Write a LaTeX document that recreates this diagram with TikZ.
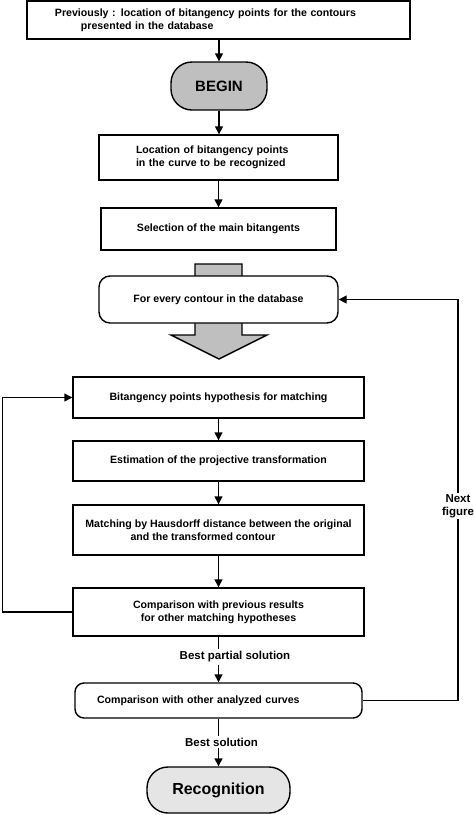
\documentclass[tikz,border=0pt]{standalone}
\usepackage{fontspec}
\setmainfont{Liberation Sans}
\usetikzlibrary{arrows.meta}
\begin{document}
\begin{tikzpicture}[x=1pt,y=-1pt,
  box/.style={draw, line width=1.4pt, fill=white, inner sep=0pt,
    font=\bfseries\fontsize{10.6}{13}\selectfont, align=center},
  rbox/.style={box, rounded corners=11pt},
  term/.style={draw, line width=1.4pt, rounded corners=21pt, inner sep=0pt,
    font=\bfseries\fontsize{16}{18}\selectfont},
  lab/.style={inner sep=2pt, font=\bfseries\fontsize{11.5}{13}\selectfont, align=center},
  conn/.style={line width=1.4pt},
  arr/.style={conn, -{Triangle[length=8pt,width=8pt]}}]
\useasboundingbox (0,0) rectangle (474,815);
\fill[white] (0,0) rectangle (474,815);

\node[box, minimum width=383, minimum height=38, text width=383, align=left] (prev) at (218.5,20)
  {\hspace*{28pt}Previously : location of bitangency points for the contours\\
   \hspace*{54pt}presented in the database};
\node[term, fill=black!25, minimum width=96, minimum height=48, font=\bfseries\fontsize{15}{18}\selectfont] (begin) at (219,86) {BEGIN};
\node[box, minimum width=239, minimum height=45, text width=239, align=left] (loc) at (218.5,157.5)
  {\hspace*{37pt}Location of bitangency points\\
   \hspace*{37pt}in the curve to be recognized};
\node[box, minimum width=235, minimum height=42] (sel) at (218.5,229) {Selection of the main bitangents};

\draw[conn, fill=black!25] (195,264) -- (242,264) -- (242,335) -- (267,335) -- (219,359)
  -- (171,335) -- (195,335) -- cycle;
\node[rbox, minimum width=239, minimum height=47] (forall) at (218.5,299.5) {For every contour in the database};

\node[box, minimum width=291, minimum height=41] (bit) at (218.5,397.5) {Bitangency points hypothesis for matching};
\node[box, minimum width=291, minimum height=40] (est) at (218.5,461) {Estimation of the projective transformation};
\node[box, minimum width=291, minimum height=50] (match) at (218.5,530)
  {Matching by Hausdorff distance between the original\\
   and the transformed contour\hspace*{31pt}\null};
\node[box, minimum width=291, minimum height=48] (cmp) at (218.5,612)
  {Comparison with previous results\\for other matching hypotheses};
\node[lab] (bps) at (235,657) {Best partial solution};
\node[rbox, rounded corners=9pt, minimum width=287, minimum height=35, text width=287, align=left] (curves) at (218.5,700.5)
  {\hspace*{22pt}Comparison with other analyzed curves};
\node[lab] (bs) at (221.5,742) {Best solution};
\node[term, fill=black!10, minimum width=143, minimum height=46] (recog) at (218.5,790) {Recognition};
\node[lab, inner sep=1pt] (nf) at (458,506) {Next\\figure};

\draw[arr] (prev.south -| begin) -- (begin.north);
\draw[arr] (begin.south) -- (begin.south |- loc.north);
\draw[arr] (loc.south) -- (sel.north);
\draw[arr] (bit.south) -- (est.north);
\draw[arr] (est.south) -- (match.north);
\draw[arr] (match.south) -- (cmp.south |- cmp.north);
\draw[conn] (cmp.south) -- (cmp.south |- bps.north);
\draw[arr] (cmp.south |- bps.south) -- (curves.north);
\draw[conn] (curves.south) -- (curves.south |- bs.north);
\draw[arr] (curves.south |- bs.south) -- (recog.north);
\draw[arr] (cmp.west) -- ++(-70,0) |- (bit.west);
\draw[conn] (curves.east) -| (nf.south);
\draw[arr] (nf.north) |- (forall.east);
\end{tikzpicture}
\end{document}
